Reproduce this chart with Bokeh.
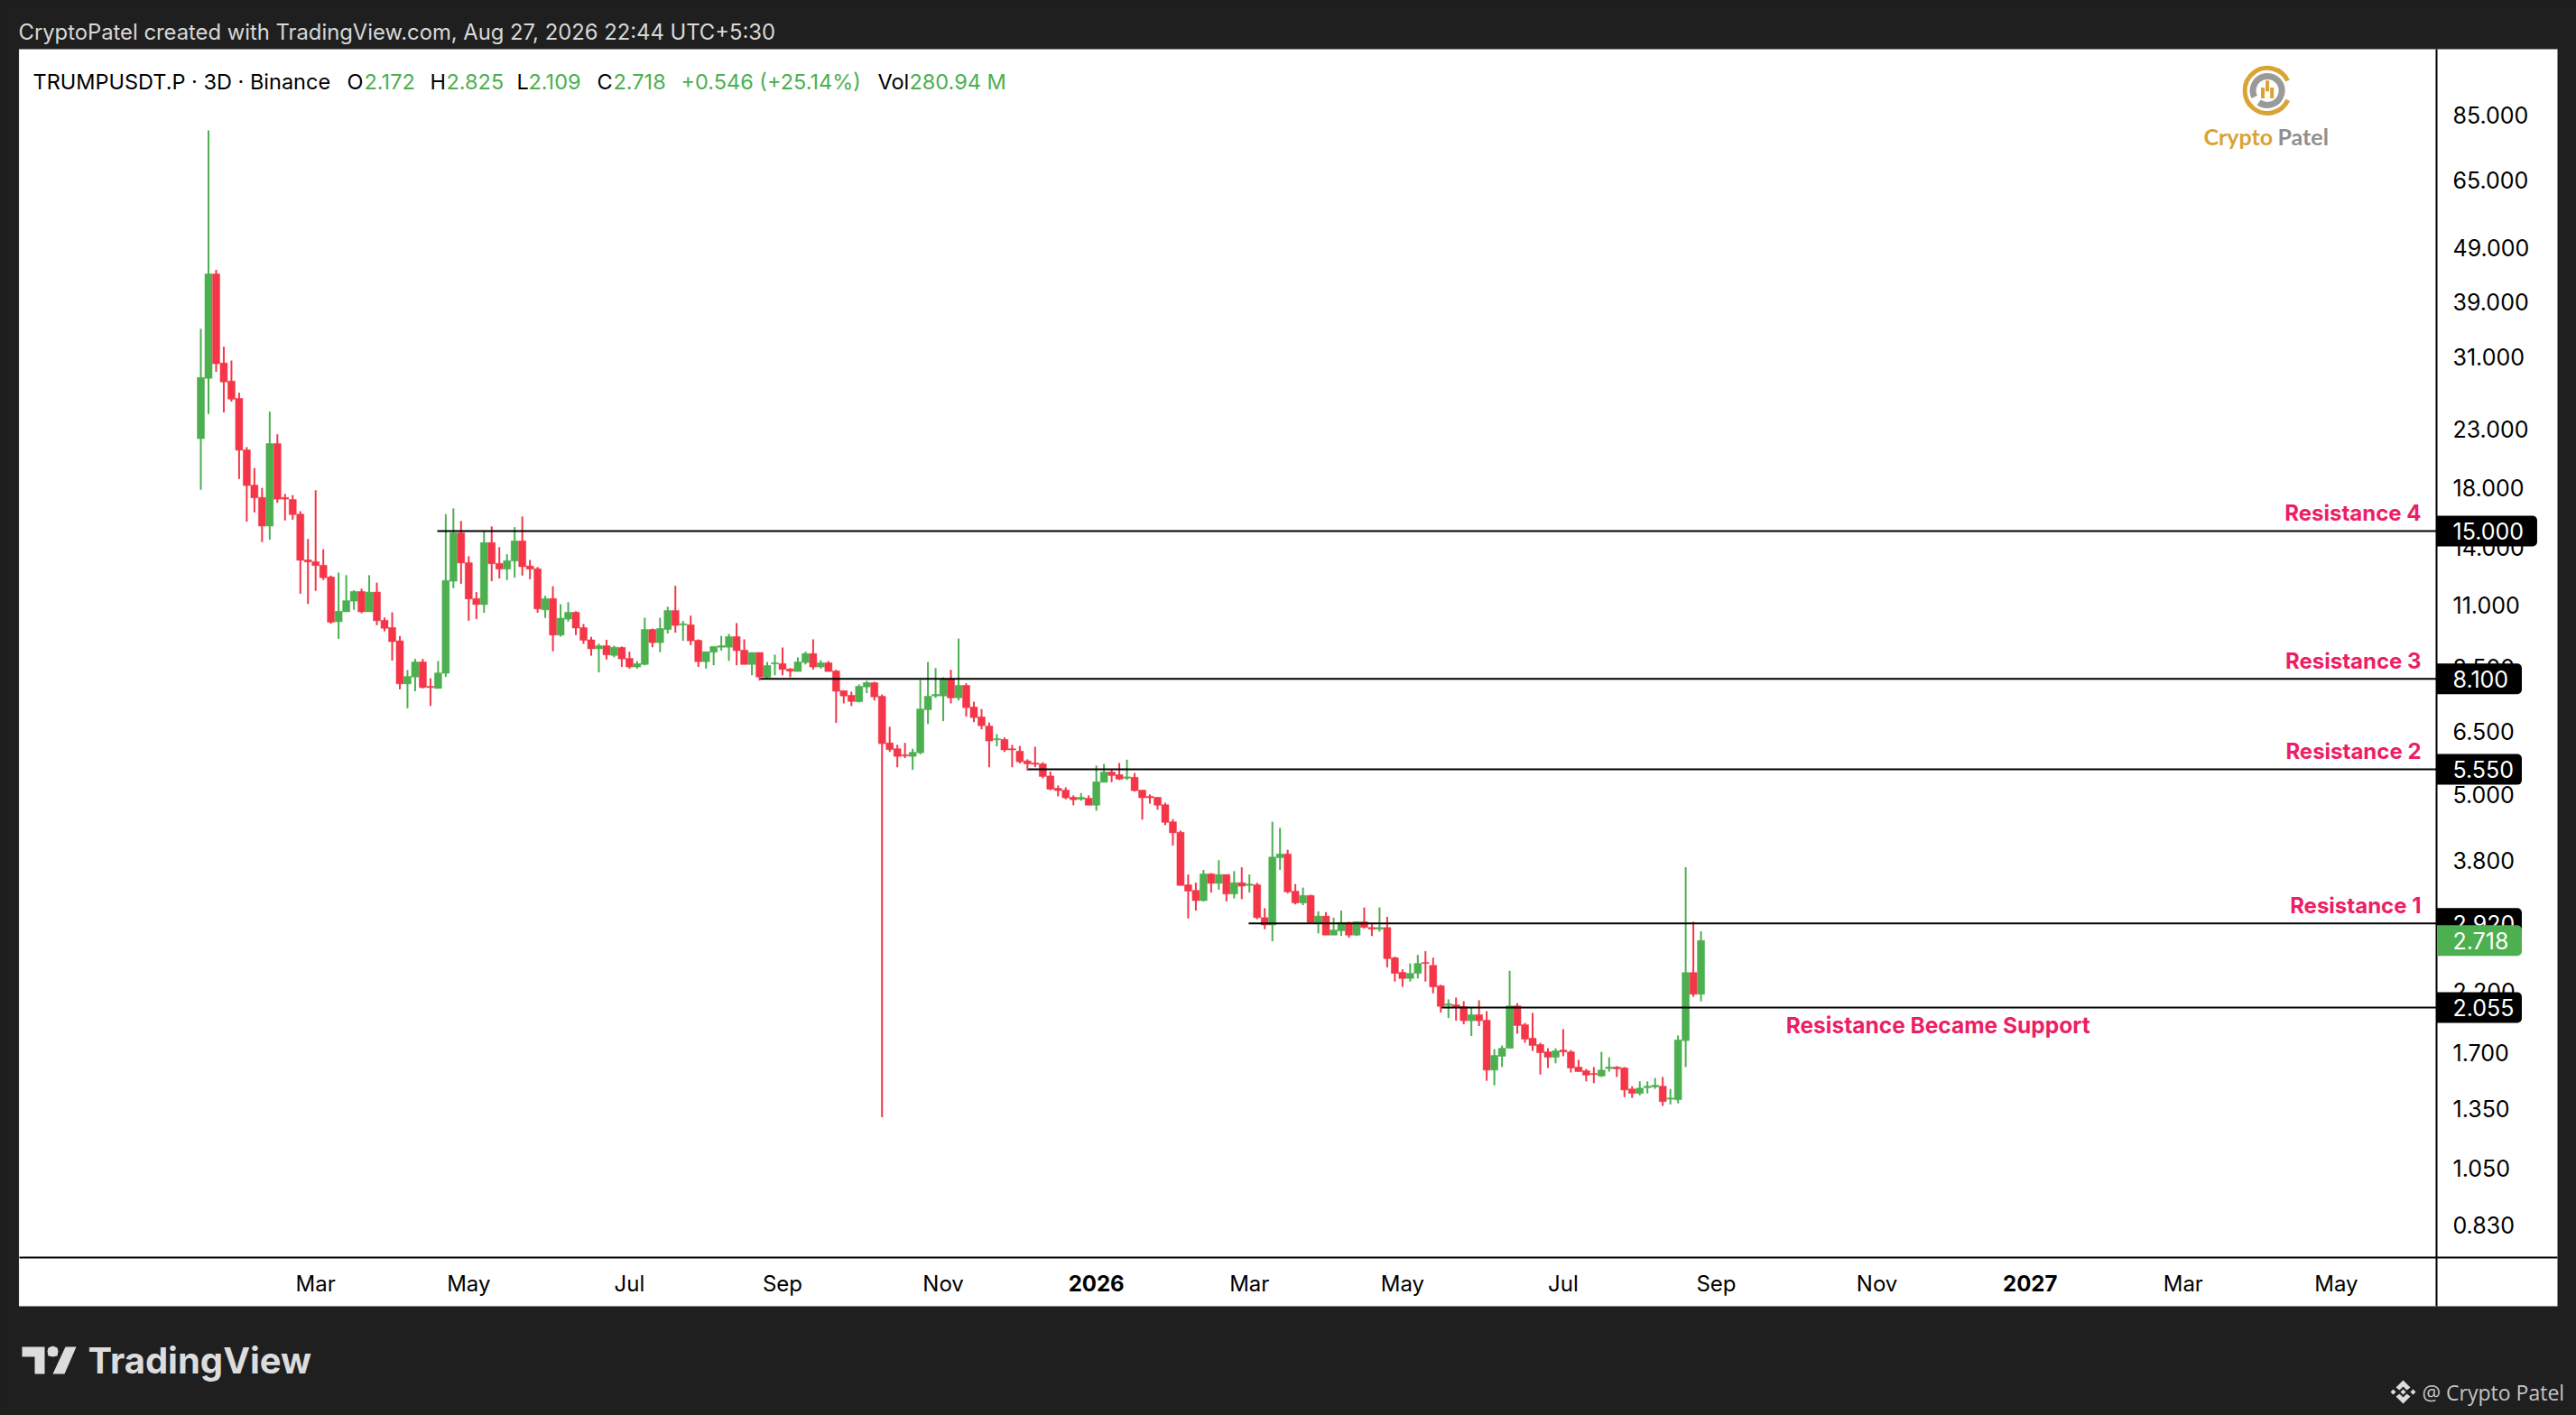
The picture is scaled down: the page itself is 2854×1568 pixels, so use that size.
from bokeh.plotting import figure
from bokeh.models import (Range1d, FixedTicker, PrintfTickFormatter, Label, BoxAnnotation,
                          PolyAnnotation, ColumnDataSource)
from bokeh.core.properties import value
from bokeh.embed import file_html
from bokeh.resources import INLINE

open_prices = [
 22.06,28.38,43.86,30.25,28.05,26.10,21.05,18.17,17.26,15.32,
 21.61,17.26,17.11,16.10,13.30,13.21,13.01,12.39,10.28,10.71,
 11.20,11.66,10.71,11.63,10.34,10.03,9.49,7.93,8.16,8.69,
 7.85,7.78,8.29,12.17,14.89,13.15,11.32,11.04,14.30,13.11,
 12.80,13.24,14.40,12.97,12.82,10.80,11.32,9.72,10.39,10.69,
 10.03,9.53,9.18,9.30,8.93,
 9.23,8.82,8.51,8.60,9.95,9.42,9.95,10.77,10.14,10.15,9.51,8.70,9.05,9.24,9.24,9.66,9.13,8.60,9.04,8.15,
 8.62,8.63,8.44,8.35,8.67,9.00,8.51,8.66,8.37,7.71,7.56,7.36,7.83,7.97,7.53,6.20,6.05,5.90,5.86,5.95,
 7.12,7.54,7.54,8.09,7.48,7.88,7.20,6.91,6.65,6.28,6.29,6.05,5.99,5.75,5.70,5.68,5.40,5.13,5.09,
 4.94,4.90,4.92,4.78,5.26,5.49,5.43,5.35,5.37,5.09,4.96,4.94,4.79,4.46,4.27,3.43,3.35,3.21,3.59,3.45,
 3.58,3.30,3.46,3.42,3.43,2.99,2.90,3.84,3.90,3.34,3.18,3.28,2.93,3.01,2.78,2.83,2.93,2.78,2.94,2.87,
 2.85,2.87,2.53,2.38,2.32,2.37,2.48,2.45,2.25,2.073,2.079,2.063,1.945,1.994,
 1.949,1.583,1.677,1.734,2.069,1.913,1.808,1.761,1.708,1.670,1.721,1.708,1.603,1.579,1.561,1.544,1.593,
 1.603,1.597,1.463,1.436,1.471,1.476,1.480,1.402,1.399,1.790,2.378,2.172]

close_prices = [
 28.48,43.86,30.15,27.96,26.01,21.02,18.14,17.23,15.32,21.61,
 17.14,17.14,16.07,13.28,13.19,12.99,12.35,10.26,10.74,11.22,
 11.66,10.71,11.63,10.32,10.00,9.46,7.93,8.18,8.69,7.81,
 7.81,8.30,12.21,14.89,13.13,11.30,11.04,14.30,13.09,12.80,
 13.26,14.40,12.93,12.80,10.84,11.32,9.72,10.43,10.69,10.01,
 9.51,9.18,9.30,8.95,9.24,
 8.80,8.51,8.63,9.95,9.42,9.99,10.77,10.12,10.19,9.49,8.70,9.07,9.27,9.30,9.66,9.11,8.60,9.04,8.16,8.56,
 8.66,8.42,8.36,8.69,9.00,8.51,8.66,8.35,7.69,7.54,7.37,7.85,7.97,7.51,6.18,6.03,5.86,5.87,5.96,7.14,
 7.53,7.59,8.09,7.48,7.88,7.18,6.89,6.66,6.25,6.31,6.02,6.02,5.73,5.68,5.67,5.39,5.11,5.08,4.93,
 4.89,4.94,4.78,5.27,5.49,5.41,5.33,5.38,5.08,4.93,4.93,4.78,4.45,4.26,3.42,3.34,3.21,3.59,3.45,3.58,
 3.30,3.46,3.41,3.44,2.99,2.90,3.85,3.90,3.33,3.18,3.28,2.93,3.01,2.78,2.84,2.93,2.78,2.94,2.87,2.85,
 2.87,2.52,2.37,2.32,2.37,2.47,2.47,2.24,2.065,2.087,2.061,1.945,1.994,1.945,
 1.583,1.683,1.734,2.069,1.906,1.801,1.754,1.702,1.670,1.715,1.708,1.597,1.573,1.550,1.554,1.583,1.603,
 1.591,1.457,1.436,1.468,1.480,1.486,1.388,1.409,1.795,2.378,2.172,2.718]

high_prices = [
 34.90,79.80,44.62,32.36,30.56,26.72,21.30,19.52,17.97,24.69,22.47,17.52,17.43,16.30,14.52,17.79,13.91,12.46,12.62,12.48,
 11.72,11.80,12.48,12.10,10.46,10.69,9.68,8.40,8.80,8.80,8.12,8.72,16.10,16.49,15.65,13.51,11.63,15.02,15.30,14.03,
 13.62,15.25,15.94,13.30,12.91,11.45,11.92,11.05,11.15,10.74,10.18,9.65,9.38,9.53,9.30,
 9.27,9.07,8.72,10.45,9.99,10.45,10.94,11.94,10.31,10.54,9.55,9.07,9.27,9.69,9.77,10.22,9.55,9.04,9.04,8.69,
 8.96,9.23,8.47,8.86,9.07,9.55,8.75,8.72,8.41,7.71,7.68,7.91,8.03,8.00,7.59,6.63,6.15,6.20,6.05,8.06,
 8.69,8.47,8.15,8.41,9.58,7.95,7.36,7.14,6.75,6.43,6.34,6.15,6.12,5.79,6.10,5.72,5.50,5.19,5.15,
 4.98,5.03,4.98,5.64,5.68,5.55,5.70,5.78,5.47,5.09,5.00,4.94,4.83,4.51,4.30,3.58,3.46,3.65,3.60,3.80,
 3.58,3.63,3.69,3.58,3.46,3.11,4.46,4.35,3.97,3.44,3.39,3.29,3.07,3.06,2.99,3.08,2.94,2.94,3.12,2.92,
 3.12,3.00,2.54,2.41,2.47,2.56,2.60,2.53,2.26,2.127,2.142,2.110,2.055,2.118,
 2.024,1.728,1.754,2.395,2.093,1.927,2.009,1.774,1.734,1.734,1.878,1.721,1.652,1.591,1.603,1.708,1.670,
 1.609,1.603,1.480,1.510,1.510,1.532,1.538,1.463,1.829,3.69,2.94,2.825]

low_prices = [
 17.82,24.45,29.16,24.61,25.75,18.64,15.60,16.22,14.33,14.47,16.88,15.68,15.73,11.55,11.07,11.69,12.23,10.19,9.57,10.71,
 10.80,10.65,10.71,10.13,9.87,8.74,7.75,7.16,7.69,7.78,7.23,7.78,8.16,11.82,12.04,10.32,10.39,10.67,12.17,12.31,
 12.23,12.35,12.46,12.27,10.67,10.44,9.08,9.66,10.28,9.72,9.37,8.92,8.32,8.78,8.86,
 8.51,8.45,8.45,8.57,9.24,9.05,9.78,9.82,9.49,9.32,8.51,8.45,8.57,9.11,8.73,8.57,8.60,8.22,8.04,8.12,
 8.22,8.22,8.15,8.35,8.60,8.42,8.45,8.35,6.74,7.31,7.23,7.34,7.63,7.40,1.30,5.97,5.60,5.82,5.54,5.91,
 6.71,7.48,6.79,7.31,7.40,6.92,6.76,6.56,5.60,6.11,5.97,5.60,5.69,5.52,5.60,5.35,5.09,4.96,4.90,
 4.78,4.87,4.78,4.67,5.26,5.26,5.31,5.31,5.06,4.50,4.81,4.69,4.40,4.04,3.42,2.98,3.08,3.20,3.32,3.36,
 3.20,3.24,3.23,3.32,2.97,2.85,2.71,3.65,3.31,3.16,3.15,2.92,2.80,2.78,2.78,2.77,2.75,2.77,2.86,2.77,
 2.82,2.43,2.29,2.24,2.29,2.32,2.29,2.18,2.012,1.967,1.945,1.916,1.825,1.902,
 1.514,1.486,1.603,1.734,1.843,1.774,1.715,1.554,1.597,1.628,1.677,1.567,1.573,1.510,1.499,1.538,1.573,
 1.538,1.414,1.409,1.425,1.436,1.464,1.363,1.372,1.378,1.603,2.149,2.109]

price_ticks = [85, 65, 49, 39, 31, 23, 18, 14, 11, 8.5, 6.5, 5, 3.8, 2.9, 2.2, 1.7, 1.35, 1.05, 0.83]
month_ticks = [15, 35, 56, 76, 97, 137, 157, 178, 198, 219, 259, 279]
month_labels = ["Mar", "May", "Jul", "Sep", "Nov", "Mar", "May", "Jul", "Sep", "Nov", "Mar", "May"]
year_ticks = [117, 239]
year_labels = ["2026", "2027"]

level_prices = [15.0, 8.1, 5.55, 2.92, 2.055]
level_starts = [30.9, 73.1, 108.1, 136.9, 162.1]
level_names = ["Resistance 4", "Resistance 3", "Resistance 2", "Resistance 1"]
level_tags = ["15.000", "8.100", "5.550", "2.920", "2.055"]
last_price = 2.718

GREEN = "#4caf50"
RED = "#f43648"
PINK = "#ec1e66"
DARK = "#1f1f1f"
FONT = "Inter"

# the plotting frame fills the page; both axes sit inside it at fixed locations
X_RANGE = (-26.18, 310.38)
Y_RANGE = (0.3747, 137.29)
AXIS_X = 292.1
AXIS_Y = 0.7245

p = figure(width=2854, height=1568, output_backend="svg", toolbar_location=None,
           x_range=Range1d(*X_RANGE), y_range=Range1d(*Y_RANGE),
           y_axis_type="log", y_axis_location="right",
           min_border=0, background_fill_color=DARK, border_fill_color=DARK, outline_line_color=None)
p.grid.visible = False

# white panel
p.add_layout(BoxAnnotation(left=20.5, right=2833, top=54, bottom=1447,
                           left_units="canvas", right_units="canvas", top_units="canvas", bottom_units="canvas",
                           fill_color="white", fill_alpha=1, line_color="#8a8a8a", line_width=1, level="underlay"))

# axes
ya = p.yaxis[0]
ya.fixed_location = AXIS_X
ya.bounds = (0.591, 112.0)
ya.ticker = FixedTicker(ticks=price_ticks)
ya.formatter = PrintfTickFormatter(format="%.3f")
ya.major_tick_line_color = None
ya.minor_tick_line_color = None
ya.axis_line_color = "black"
ya.axis_line_width = 2
ya.major_label_standoff = 12
ya.major_label_text_font = FONT
ya.major_label_text_font_size = "25px"
ya.major_label_text_color = "black"

xa = p.xaxis[0]
xa.fixed_location = AXIS_Y
xa.bounds = (-23.7, 307.9)
xa.ticker = FixedTicker(ticks=month_ticks + year_ticks)
xa.major_label_overrides = {**dict(zip(month_ticks, month_labels)), **{t: "" for t in year_ticks}}
xa.major_tick_line_color = None
xa.minor_tick_line_color = None
xa.axis_line_color = "black"
xa.axis_line_width = 2
xa.major_label_standoff = 9
xa.major_label_text_font = FONT
xa.major_label_text_font_size = "24px"
xa.major_label_text_color = "black"

for t, s in zip(year_ticks, year_labels):
    p.add_layout(Label(x=t, y=1421, x_units="data", y_units="canvas", text=s, text_align="center",
                       text_baseline="middle", text_font=FONT, text_font_size="24px", text_font_style="bold",
                       text_color="black"))

# candles
idx = list(range(len(open_prices)))
assert len(open_prices) == len(close_prices) == len(high_prices) == len(low_prices)
colors = [GREEN if c >= o else RED for o, c in zip(open_prices, close_prices)]
src = ColumnDataSource(dict(x=idx, o=open_prices, c=close_prices, h=high_prices, l=low_prices, color=colors))
p.segment(x0="x", x1="x", y0="l", y1="h", color="color", line_width=2, source=src)
p.vbar(x="x", width=0.94, top="o", bottom="c", fill_color="color", line_color="color", line_width=0.5, source=src)

# horizontal levels
p.segment(x0=level_starts, x1=[AXIS_X] * len(level_starts), y0=level_prices, y1=level_prices,
          line_color="black", line_width=2)

# level captions
p.text(x=[290.1] * 4, y=level_prices[:4], text=level_names, text_align="right", text_baseline="middle",
       y_offset=-20, text_color=PINK, text_font=value(FONT), text_font_size="24px", text_font_style="bold")
p.text(x=[207.1], y=[level_prices[4]], text=["Resistance Became Support"], text_align="left", text_baseline="middle",
       y_offset=20, text_color=PINK, text_font=value(FONT), text_font_size="24.5px", text_font_style="bold")


def tag(text, price, color):
    wide = len(text) > 5
    p.rect(x=[AXIS_X + (6.6 if wide else 5.6)], y=[price], width=111 if wide else 94, height=34,
           width_units="screen", height_units="screen", fill_color=color, line_color=None,
           border_radius=(0, 5, 5, 0), level="overlay")
    p.text(x=[AXIS_X], y=[price], text=[text], x_offset=18, text_align="left", text_baseline="middle",
           text_color="white", text_font=value(FONT), text_font_size="25px", level="overlay")


for pr, t in zip(level_prices, level_tags):
    tag(t, pr, "black")
tag("2.718", last_price, GREEN)


def txt(px, py, s, color, size="24px", font=FONT, style="normal"):
    p.add_layout(Label(x=px, y=py, x_units="canvas", y_units="canvas", text=s, text_align="left",
                       text_baseline="middle", text_font=font, text_font_size=size, text_font_style=style,
                       text_color=color))


# header
txt(20, 35, "CryptoPatel created with TradingView.com, Aug 27, 2026 22:44 UTC+5:30", "#d8d8d8", "23.8px")
txt(36, 90, "TRUMPUSDT.P · 3D · Binance", "black", "23.5px")
txt(384, 90, "O", "black", "23.5px")
txt(403, 90, "2.172", GREEN, "23.5px")
txt(476, 90, "H", "black", "23.5px")
txt(494, 90, "2.825", GREEN, "23.5px")
txt(572, 90, "L", "black", "23.5px")
txt(585, 90, "2.109", GREEN, "23.5px")
txt(661, 90, "C", "black", "23.5px")
txt(679, 90, "2.718", GREEN, "23.5px")
txt(754, 90, "+0.546 (+25.14%)", GREEN, "23.5px")
txt(972, 90, "Vol", "black", "23.5px")
txt(1007, 90, "280.94 M", GREEN, "23.5px")

# CryptoPatel logo
logo_x, logo_y = 270.0, 94.25
p.arc(x=[logo_x], y=[logo_y], radius=25, radius_units="screen", start_angle=0.45, end_angle=5.85,
      line_color="#d9a336", line_width=5)
p.arc(x=[logo_x], y=[logo_y], radius=16, radius_units="screen", start_angle=-2.2, end_angle=3.6,
      line_color="#9a9a9a", line_width=7, direction="anticlock")
p.rect(x=[logo_x - 0.6, logo_x, logo_x + 0.6], y=[logo_y * 0.99, logo_y * 1.02, logo_y * 0.99],
       width=4, height=12, width_units="screen", height_units="screen", fill_color="#d9a336", line_color=None)
txt(2441, 150, "Crypto", "#d9a336", "25px", "Lato", "bold")
txt(2523, 150, "Patel", "#8f8f8f", "25px", "Lato", "bold")

# footer marks
LOGO = "#dcdcdc"
shapes = [
    [(24, 1492), (49, 1492), (49, 1522), (38, 1522), (38, 1503), (24, 1503)],
    [(72, 1492), (84, 1492), (71, 1522), (58, 1522)],
    [(58, 1491), (63, 1493), (64, 1497), (63, 1502), (58, 1503), (53, 1502), (52, 1497), (53, 1493)],
    [(2662, 1529), (2670, 1537), (2666, 1540), (2662, 1536), (2658, 1540), (2654, 1537)],
    [(2662, 1555), (2670, 1547), (2666, 1544), (2662, 1548), (2658, 1544), (2654, 1547)],
    [(2662, 1539), (2665, 1542), (2662, 1545), (2659, 1542)],
    [(2651, 1539), (2654, 1542), (2651, 1545), (2648, 1542)],
    [(2673, 1539), (2676, 1542), (2673, 1545), (2670, 1542)],
]
for sh in shapes:
    p.add_layout(PolyAnnotation(xs=[a for a, b in sh], ys=[b for a, b in sh], xs_units="canvas", ys_units="canvas",
                                fill_color=LOGO, fill_alpha=1, line_color=None))
txt(97, 1507, "TradingView", LOGO, "40px", FONT, "bold")
txt(2683, 1542, "@ Crypto Patel", "#c4c4c4", "23px", "Open Sans")

html = file_html(p, INLINE)
html = html.replace("</head>", "<style>html,body{background:#1f1f1f;overflow:hidden}</style></head>", 1)
open("out.html", "w").write(html)
